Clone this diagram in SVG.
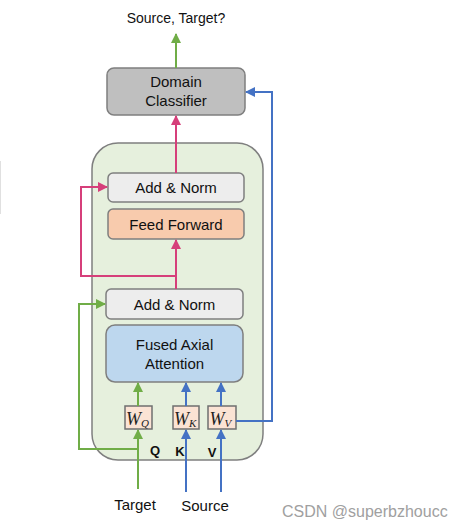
<svg xmlns="http://www.w3.org/2000/svg" width="472" height="529" viewBox="0 0 472 529">
<defs>
<style>
.t{font-family:"Liberation Sans",Arial,sans-serif;font-size:15px;fill:#111;text-anchor:middle}
.b{font-family:"Liberation Sans",Arial,sans-serif;font-size:13px;font-weight:bold;fill:#111;text-anchor:middle}
.w{font-family:"Liberation Serif","Times New Roman",serif;font-style:italic;fill:#222}
.box{stroke:#7f7f7f;stroke-width:1.5}
.wb{fill:#fbe3d4;stroke:#6f6f6f;stroke-width:1.5}
.g{stroke:#70ad47;stroke-width:2;fill:none}
.p{stroke:#d63f7a;stroke-width:2;fill:none}
.bl{stroke:#4472c4;stroke-width:2;fill:none}
</style>
<marker id="ag" markerWidth="10" markerHeight="10" refX="9" refY="5" orient="auto" markerUnits="userSpaceOnUse"><path d="M0,0 L10,5 L0,10 Z" fill="#70ad47"/></marker>
<marker id="ap" markerWidth="10" markerHeight="10" refX="9" refY="5" orient="auto" markerUnits="userSpaceOnUse"><path d="M0,0 L10,5 L0,10 Z" fill="#d63f7a"/></marker>
<marker id="ab" markerWidth="10" markerHeight="10" refX="9" refY="5" orient="auto" markerUnits="userSpaceOnUse"><path d="M0,0 L10,5 L0,10 Z" fill="#4472c4"/></marker>
</defs>
<rect x="0" y="0" width="472" height="529" fill="#ffffff"/>
<rect x="0" y="161" width="1" height="53" fill="#e0e0e0"/>

<g id="container">
<rect x="92" y="143" width="171" height="317" rx="26" fill="#e6f0dd" class="box"/>
</g>

<text class="t" x="176" y="23" style="font-size:14px">Source, Target?</text>

<g id="domain-classifier">
<rect x="107" y="68" width="138" height="47" rx="7" fill="#bfbfbf" class="box"/>
<text class="t" x="176" y="87">Domain</text>
<text class="t" x="176" y="106">Classifier</text>
</g>

<g id="add-norm-top">
<rect x="108" y="173" width="136" height="29" rx="5" fill="#ededed" class="box"/>
<text class="t" x="176" y="193">Add &amp; Norm</text>
</g>

<g id="feed-forward">
<rect x="108" y="209" width="136" height="30" rx="5" fill="#f8cbad" class="box"/>
<text class="t" x="176" y="230">Feed Forward</text>
</g>

<g id="add-norm-bottom">
<rect x="106" y="289" width="137" height="30" rx="5" fill="#ededed" class="box"/>
<text class="t" x="174.5" y="310">Add &amp; Norm</text>
</g>

<g id="fused-axial-attention">
<rect x="106" y="325" width="137" height="57" rx="9" fill="#bdd7ee" class="box"/>
<text class="t" x="174.5" y="350">Fused Axial</text>
<text class="t" x="174.5" y="369">Attention</text>
</g>

<g id="wq">
<rect x="125" y="406" width="27" height="23" class="wb"/>
<text class="w" x="126" y="425" font-size="18">W<tspan font-size="11" dy="2">Q</tspan></text>
</g>
<g id="wk">
<rect x="173" y="406" width="26" height="23" class="wb"/>
<text class="w" x="174" y="425" font-size="18">W<tspan font-size="11" dy="2">K</tspan></text>
</g>
<g id="wv">
<rect x="208" y="406" width="28" height="23" class="wb"/>
<text class="w" x="209.5" y="425" font-size="18">W<tspan font-size="11" dy="2">V</tspan></text>
</g>

<g id="connectors">
<line class="g" x1="176" y1="68" x2="176" y2="34" marker-end="url(#ag)"/>
<line class="p" x1="176" y1="173" x2="176" y2="116" marker-end="url(#ap)"/>
<line class="p" x1="176" y1="289" x2="176" y2="240" marker-end="url(#ap)"/>
<polyline class="p" points="176,276 81,276 81,187 107,187" marker-end="url(#ap)"/>
<line class="g" x1="138" y1="406" x2="138" y2="383" marker-end="url(#ag)"/>
<line class="g" x1="138" y1="489" x2="138" y2="430" marker-end="url(#ag)"/>
<polyline class="g" points="138,449 79,449 79,304 105,304" marker-end="url(#ag)"/>
<line class="bl" x1="186" y1="406" x2="186" y2="383" marker-end="url(#ab)"/>
<line class="bl" x1="186" y1="492" x2="186" y2="430" marker-end="url(#ab)"/>
<line class="bl" x1="221" y1="406" x2="221" y2="383" marker-end="url(#ab)"/>
<line class="bl" x1="221" y1="492" x2="221" y2="430" marker-end="url(#ab)"/>
<polyline class="bl" points="236,421 272,421 272,92 246,92" marker-end="url(#ab)"/>
</g>

<text class="b" x="155" y="455">Q</text>
<text class="b" x="180" y="456">K</text>
<text class="b" x="212" y="457">V</text>
<text class="t" x="135" y="510">Target</text>
<text class="t" x="205" y="511">Source</text>
<text x="282" y="517" font-family="Liberation Sans,Arial,sans-serif" font-size="16" fill="#a0a0a0">CSDN @superbzhoucc</text>
</svg>
